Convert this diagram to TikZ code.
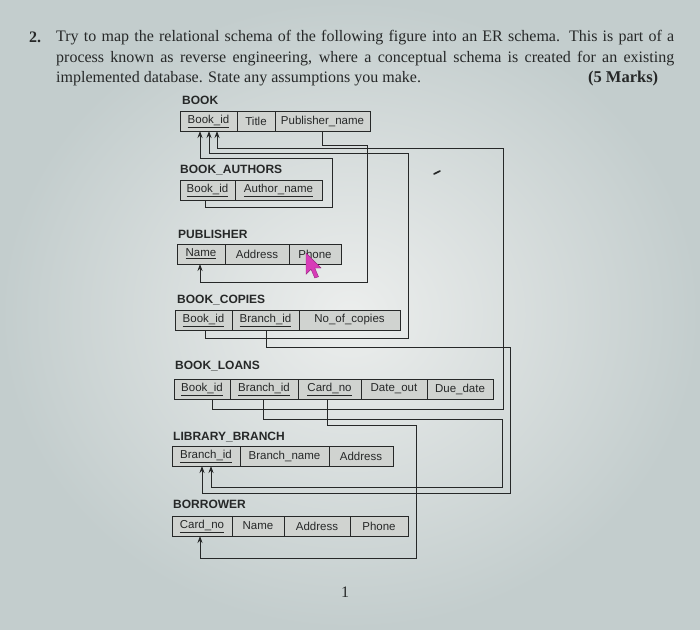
\documentclass[tikz,border=0pt]{standalone}
\usepackage{fontspec}
\setmainfont{Liberation Serif}
\setsansfont{Liberation Sans}
\usetikzlibrary{arrows.meta}
\usetikzlibrary{positioning}
\definecolor{paper}{HTML}{ECEEED}
\definecolor{paperedge}{HTML}{C3CDCD}
\definecolor{cellfill}{HTML}{D0D3D0}
\definecolor{ink}{HTML}{262828}
\definecolor{cursor}{HTML}{D83CB8}
\tikzstyle{cell} = [rectangle, draw=ink, line width=0.9pt, fill=cellfill, minimum height=20pt, inner sep=0pt, outer sep=0pt, text=ink, font=\sffamily\fontsize{11.5}{11.5}\selectfont]
\tikzstyle{relname} = [anchor=base west, inner sep=0pt, text=ink, font=\sffamily\bfseries\fontsize{12}{12}\selectfont]
\tikzstyle{fk} = [-{Stealth[length=7pt,width=5pt]}, draw=ink, line width=0.9pt]
\tikzstyle{question} = [anchor=north west, inner sep=0pt, text width=618pt, align=justify, text=ink, font=\fontsize{16}{20.5}\selectfont]
\newcommand{\keyattr}[1]{\underline{#1}}

\begin{document}
\begin{tikzpicture}[x=1pt, y=-1pt]

  % paper
  \shade[inner color=paper, outer color=paperedge] (0,0) rectangle (700,629);
  \useasboundingbox (0,0) rectangle (700,629);

  % question text
  \node [anchor=base west, inner sep=0pt, text=ink, font=\bfseries\fontsize{16}{20.5}\selectfont] (qnum) at (29,42) {2.};
  \node [question] (qtext) at (56,30.5) {Try to map the relational schema of the following figure into an ER schema. This is part of a\linebreak process known as reverse engineering, where a conceptual schema is created for an existing\linebreak implemented database. State any assumptions you make.\hfill\textbf{\fontsize{16.5}{20.5}\selectfont(5 Marks)}\hspace*{16pt}};

  % BOOK
  \node [relname] (book) at (182,104.5) {BOOK};
  \node [cell, minimum width=57pt, anchor=north west] (bookId) at (180,111) {\keyattr{Book\_id}};
  \node [cell, minimum width=38pt, right=0pt of bookId] (bookTitle) {Title};
  \node [cell, minimum width=95pt, right=0pt of bookTitle] (bookPub) {Publisher\_name};

  % BOOK_AUTHORS
  \node [relname] (authors) at (180,173) {BOOK\_AUTHORS};
  \node [cell, minimum width=55pt, anchor=north west] (baBookId) at (180,180) {\keyattr{Book\_id}};
  \node [cell, minimum width=87pt, right=0pt of baBookId] (baName) {\keyattr{Author\_name}};

  % PUBLISHER
  \node [relname] (publisher) at (178,238) {PUBLISHER};
  \node [cell, minimum width=48pt, anchor=north west] (pubName) at (177,244) {\keyattr{Name}};
  \node [cell, minimum width=64pt, right=0pt of pubName] (pubAddr) {Address};
  \node [cell, minimum width=52pt, right=0pt of pubAddr] (pubPhone) {Phone};

  % BOOK_COPIES
  \node [relname] (copies) at (177,303) {BOOK\_COPIES};
  \node [cell, minimum width=57pt, anchor=north west] (bcBookId) at (175,310) {\keyattr{Book\_id}};
  \node [cell, minimum width=67pt, right=0pt of bcBookId] (bcBranchId) {\keyattr{Branch\_id}};
  \node [cell, minimum width=101pt, right=0pt of bcBranchId] (bcCopies) {No\_of\_copies};

  % BOOK_LOANS
  \node [relname] (loans) at (175,369) {BOOK\_LOANS};
  \node [cell, minimum width=56pt, anchor=north west] (blBookId) at (174,379) {\keyattr{Book\_id}};
  \node [cell, minimum width=68pt, right=0pt of blBookId] (blBranchId) {\keyattr{Branch\_id}};
  \node [cell, minimum width=63pt, right=0pt of blBranchId] (blCardNo) {\keyattr{Card\_no}};
  \node [cell, minimum width=66pt, right=0pt of blCardNo] (blOut) {Date\_out};
  \node [cell, minimum width=66pt, right=0pt of blOut] (blDue) {Due\_date};

  % LIBRARY_BRANCH
  \node [relname] (branch) at (173,440) {LIBRARY\_BRANCH};
  \node [cell, minimum width=68pt, anchor=north west] (lbBranchId) at (172,446) {\keyattr{Branch\_id}};
  \node [cell, minimum width=89pt, right=0pt of lbBranchId] (lbName) {Branch\_name};
  \node [cell, minimum width=64pt, right=0pt of lbName] (lbAddr) {Address};

  % BORROWER
  \node [relname] (borrower) at (173,508) {BORROWER};
  \node [cell, minimum width=60pt, anchor=north west] (bwCardNo) at (172,516) {\keyattr{Card\_no}};
  \node [cell, minimum width=52pt, right=0pt of bwCardNo] (bwName) {Name};
  \node [cell, minimum width=66pt, right=0pt of bwName] (bwAddr) {Address};
  \node [cell, minimum width=58pt, right=0pt of bwAddr] (bwPhone) {Phone};

  % foreign keys to BOOK
  \draw [fk] ([xshift=-2.5]baBookId.south) -- ++(0,7) -| (332,158) -| ([xshift=-8.5]bookId.south);
  \draw [fk] ([xshift=1.5]bcBookId.south) -- ++(0,8) -| (408,153) -| ([xshift=0.5]bookId.south);
  \draw [fk] ([xshift=10]blBookId.south) -- ++(0,10) -| (503,148) -| ([xshift=8.5]bookId.south);

  % foreign key to PUBLISHER
  \draw [fk] ([xshift=-0.5]bookPub.south) -- ++(0,14) -| (367,282) -| ([xshift=-1]pubName.south);

  % foreign keys to LIBRARY_BRANCH
  \draw [fk] ([xshift=0.5]bcBranchId.south) -- ++(0,17) -| (510,493) -| ([xshift=-4]lbBranchId.south);
  \draw [fk] ([xshift=-1]blBranchId.south) -- ++(0,20) -| (502,487) -| ([xshift=5]lbBranchId.south);

  % foreign key to BORROWER
  \draw [fk] ([xshift=-2.5]blCardNo.south) -- ++(0,26) -| (416,558) -| ([xshift=-2]bwCardNo.south);

  % mouse pointer and smudge
  \fill [cursor, draw=cursor!70!black, line width=0.4pt, shift={(306,253)}, scale=1.25]
    (0,0) -- (0,17) -- (4,13) -- (7,20) -- (10,19) -- (7,12) -- (12,12) -- cycle;
  \draw [ink, line width=1.6pt, line cap=round] (434,174) -- (440,171);

  % page number
  \node [anchor=base, inner sep=0pt, text=ink, font=\fontsize{16}{16}\selectfont] (pagenum) at (345,597) {1};

\end{tikzpicture}
\end{document}
